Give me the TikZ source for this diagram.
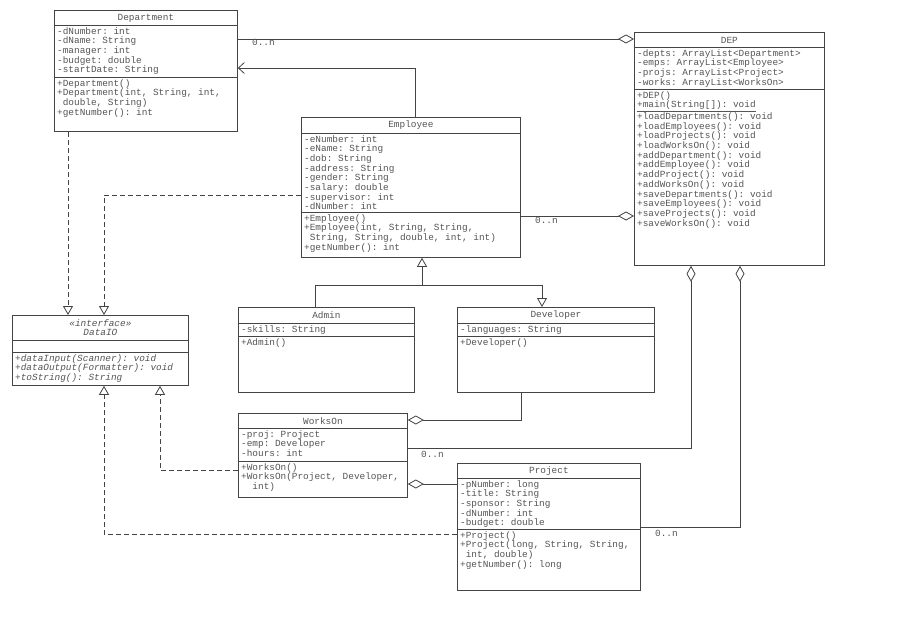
\documentclass[tikz,border=0pt]{standalone}
\usepackage{fontspec}
\setmonofont{Liberation Mono}
\usetikzlibrary{calc,arrows.meta}
\definecolor{tx}{HTML}{555555}
\definecolor{lc}{HTML}{444444}
\tikzset{
  ln/.style={draw=lc,line width=0.8pt},
  cls/.style={ln,rectangle,inner sep=0,anchor=north west},
  txt/.style={anchor=north west,inner sep=0,align=left,text=tx,font=\fontsize{9.4}{9.7}\selectfont\ttfamily},
  ttl/.style={inner sep=0,align=center,text=tx,font=\fontsize{9.4}{9.7}\selectfont\ttfamily},
  lbl/.style={anchor=north west,inner sep=0,text=tx,font=\fontsize{9.4}{9.7}\selectfont\ttfamily},
  dsh/.style={ln,dash pattern=on 5pt off 3pt},
  agg/.style={ln,-{Diamond[open,length=16pt,width=9pt]}},
  real/.style={dsh,-{Triangle[open,length=9pt,width=10pt,line width=0.8pt]}},
  gen/.style={ln,-{Triangle[open,length=9pt,width=10pt]}},
  nav/.style={ln,-{Straight Barb[length=6pt,width=11pt]}}
}
\newcommand\divl[2]{\draw[ln] ($(#1.north west)+(0,#2)$) -- ($(#1.north east)+(0,#2)$);}
\begin{document}
\begin{tikzpicture}[x=1pt,y=-1pt]
\useasboundingbox[fill=white] (0,0) rectangle (907,634);
% Department
\node[cls,minimum width=183pt,minimum height=121pt] (dept) at (54,10) {};
\divl{dept}{15}\divl{dept}{67}
\node[ttl] at ($(dept.north)+(0,8)$) {Department};
\node[txt] (depta) at ($(dept.north west)+(3,17)$) {-dNumber: int\\-dName: String\\-manager: int\\-budget: double\\-startDate: String};
\node[txt] (depto) at ($(dept.north west)+(3,69)$) {+Department()\\+Department(int, String, int,\\\ double, String)\\+getNumber(): int};
% DEP
\node[cls,minimum width=190pt,minimum height=233pt] (dep) at (634,32) {};
\divl{dep}{15}\divl{dep}{57}
\node[ttl] at ($(dep.north)+(0,8)$) {DEP};
\node[txt] (depa2) at ($(dep.north west)+(3,17)$) {-depts: ArrayList<Department>\\-emps: ArrayList<Employee>\\-projs: ArrayList<Project>\\-works: ArrayList<WorksOn>};
\node[txt] (depo2) at ($(dep.north west)+(3,59)$) {+DEP()\\\underline{+main(String[]): void}\\+loadDepartments(): void\\+loadEmployees(): void\\+loadProjects(): void\\+loadWorksOn(): void\\+addDepartment(): void\\+addEmployee(): void\\+addProject(): void\\+addWorksOn(): void\\+saveDepartments(): void\\+saveEmployees(): void\\+saveProjects(): void\\+saveWorksOn(): void};
% Employee
\node[cls,minimum width=219pt,minimum height=140pt] (emp) at (301,117) {};
\divl{emp}{16}\divl{emp}{95}
\node[ttl] at ($(emp.north)+(0,8)$) {Employee};
\node[txt] (empa) at ($(emp.north west)+(3,18)$) {-eNumber: int\\-eName: String\\-dob: String\\-address: String\\-gender: String\\-salary: double\\-supervisor: int\\-dNumber: int};
\node[txt] (empo) at ($(emp.north west)+(3,97)$) {+Employee()\\+Employee(int, String, String,\\\ String, String, double, int, int)\\+getNumber(): int};
% Admin
\node[cls,minimum width=176pt,minimum height=85pt] (adm) at (238,307) {};
\divl{adm}{16}\divl{adm}{29}
\node[ttl] at ($(adm.north)+(0,8)$) {Admin};
\node[txt] (adma) at ($(adm.north west)+(3,18)$) {-skills: String};
\node[txt] (admo) at ($(adm.north west)+(3,31)$) {+Admin()};
% Developer
\node[cls,minimum width=197pt,minimum height=85pt] (dev) at (457,307) {};
\divl{dev}{16}\divl{dev}{29}
\node[ttl] at ($(dev.north)+(0,8)$) {Developer};
\node[txt] (deva) at ($(dev.north west)+(3,18)$) {-languages: String};
\node[txt] (devo) at ($(dev.north west)+(3,31)$) {+Developer()};
% DataIO
\node[cls,minimum width=176pt,minimum height=70pt] (dio) at (12,315) {};
\divl{dio}{25}\divl{dio}{37}
\node[ttl,font=\fontsize{9.4}{9.2}\selectfont\ttfamily\itshape] at ($(dio.north)+(0,13)$) {«interface»\\DataIO};
\node[txt,font=\fontsize{9.4}{9.7}\selectfont\ttfamily\itshape] (dioo) at ($(dio.north west)+(3,39)$) {+dataInput(Scanner): void\\+dataOutput(Formatter): void\\+toString(): String};
% WorksOn
\node[cls,minimum width=169pt,minimum height=84pt] (wo) at (238,413) {};
\divl{wo}{15}\divl{wo}{48}
\node[ttl] at ($(wo.north)+(0,8)$) {WorksOn};
\node[txt] (woa) at ($(wo.north west)+(3,17)$) {-proj: Project\\-emp: Developer\\-hours: int};
\node[txt] (woo) at ($(wo.north west)+(3,50)$) {+WorksOn()\\+WorksOn(Project, Developer,\\\ \ int)};
% Project
\node[cls,minimum width=183pt,minimum height=127pt] (prj) at (457,463) {};
\divl{prj}{15}\divl{prj}{66}
\node[ttl] at ($(prj.north)+(0,8)$) {Project};
\node[txt] (prja) at ($(prj.north west)+(3,17)$) {-pNumber: long\\-title: String\\-sponsor: String\\-dNumber: int\\-budget: double};
\node[txt] (prjo) at ($(prj.north west)+(3,68)$) {+Project()\\+Project(long, String, String,\\\ int, double)\\+getNumber(): long};
% connectors
\draw[agg] (dept.east |- 0,39) -- (dep.west |- 0,39);
\node[lbl] (l1) at (252,39) {0..n};
\draw[nav] (415,117) -- (415,68) -- (dept.east |- 0,68);
\draw[agg] (emp.east |- 0,216) -- (dep.west |- 0,216);
\node[lbl] (l2) at (535,217) {0..n};
\draw[gen] (adm.north -| 315,0) -- (315,285) -- (542,285) -- (dev.north -| 542,0);
\draw[gen] (422,285) -- (emp.south -| 422,0);
\draw[real] (dept.south -| 68,0) -- (dio.north -| 68,0);
\draw[real] (emp.west |- 0,195) -- (104,195) -- (dio.north -| 104,0);
\draw[real] (wo.west |- 0,470) -- (160,470) -- (dio.south -| 160,0);
\draw[real] (prj.west |- 0,534) -- (104,534) -- (dio.south -| 104,0);
\draw[agg] (dev.south -| 521,0) -- (521,420) -- (wo.east |- 0,420);
\draw[agg] (wo.east |- 0,448) -- (691,448) -- (dep.south -| 691,0);
\node[lbl] (l3) at (421,451) {0..n};
\draw[agg] (prj.west |- 0,484) -- (wo.east |- 0,484);
\draw[agg] (prj.east |- 0,527) -- (740,527) -- (dep.south -| 740,0);
\node[lbl] (l4) at (655,530) {0..n};
\end{tikzpicture}
\end{document}
